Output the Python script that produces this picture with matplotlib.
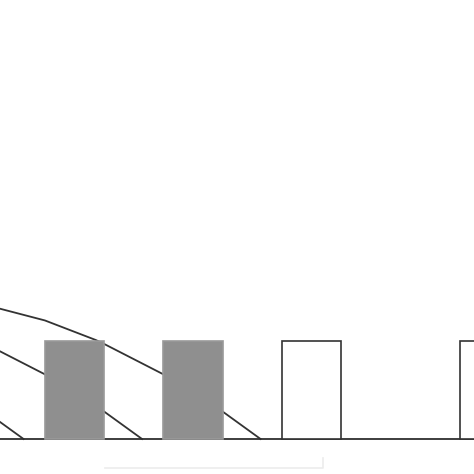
import matplotlib
matplotlib.use("Agg")
import matplotlib.pyplot as plt
import numpy as np

# bar centres and heights (1 unit = bar spacing / bar height)
bar_x = [1.0, 2.0, 3.0, 4.5]
bar_h = [1.0, 1.0, 1.0, 1.0]
bar_fill = ["#8f8f8f", "#8f8f8f", "white", "white"]
bar_edge = ["#999999", "#999999", "#333333", "#333333"]

# falling curve; repeated once per bar spacing
curve_x = [0.30, 0.37, 0.75, 1.18, 1.25, 1.75, 2.25, 2.57]
curve_y = [1.35, 1.33, 1.21, 1.01, 0.97, 0.66, 0.28, 0.00]
curve_shift = [0.0, -1.0, -2.0]

# faint box edge under the baseline
box_x = [1.26, 3.10, 3.10]
box_y = [-0.30, -0.30, -0.19]


def main() -> None:
    fig = plt.figure(figsize=(4.74, 4.74), dpi=100)
    ax = fig.add_axes([0, 0, 1, 1])
    ax.set_xlim(0.371, 4.371)
    ax.set_ylim(-0.357, 4.48)
    ax.axis("off")

    cx = np.array(curve_x)
    for s in curve_shift:
        ax.plot(cx + s, curve_y, color="#333333", lw=1.3, zorder=1)

    ax.axhline(0, color="#2e2e2e", lw=1.3, zorder=2)

    ax.bar(bar_x, bar_h, width=0.5, color=bar_fill, edgecolor=bar_edge,
           linewidth=1.2, zorder=3)

    ax.plot(box_x, box_y, color="#ececec", lw=1.2, zorder=1)

    fig.savefig("out.png", dpi=100)
    plt.close(fig)


if __name__ == "__main__":
    main()
